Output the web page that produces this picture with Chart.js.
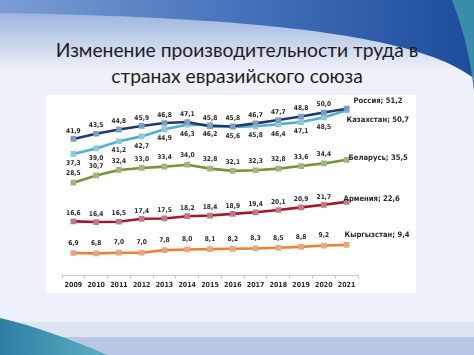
<!DOCTYPE html>
<html><head><meta charset="utf-8">
<script src="https://cdn.jsdelivr.net/npm/chart.js@4.4.0/dist/chart.umd.min.js"></script>
<style>
html,body{margin:0;padding:0;width:474px;height:355px;overflow:hidden;background:#eef1f9;}
#bg{position:absolute;left:0;top:0;}
#title{position:absolute;left:0;top:37px;width:474px;text-align:center;font-family:Lato,"Open Sans",sans-serif;font-size:19.3px;line-height:26px;color:#1e1e1e;}
#wrap{position:absolute;left:0;top:0;width:474px;height:355px;}
</style></head><body>
<svg id="bg" width="474" height="355" xmlns="http://www.w3.org/2000/svg">
<defs>
<linearGradient id="g1" x1="0" y1="0" x2="0" y2="1"><stop offset="0" stop-color="#8aa6d6"/><stop offset="1" stop-color="#eef1f9"/></linearGradient>
<linearGradient id="g2" x1="0" y1="0" x2="1" y2="0"><stop offset="0" stop-color="#7c9dd4"/><stop offset="0.5" stop-color="#4573bb"/><stop offset="1" stop-color="#1d4c9c"/></linearGradient>
<linearGradient id="g3" x1="0" y1="0" x2="1" y2="0"><stop offset="0" stop-color="#2d7ea3"/><stop offset="1" stop-color="#5fb0c4"/></linearGradient>
</defs>
<rect x="0" y="0" width="474" height="355" fill="#eef1f9"/>
<rect x="0" y="0" width="474" height="70" fill="url(#g1)"/>
<path d="M0,0 L474,0 L474,78 C430,45 320,18 0,13 Z" fill="url(#g2)"/>
<path d="M452,0 L474,0 L474,92 C471,60 463,28 452,0 Z" fill="#3a8ea9"/>
<rect x="0" y="322" width="474" height="33" fill="#dde4f2"/>
<rect x="0" y="337" width="474" height="18" fill="#b9c7e7"/>
<path d="M0,318 C35,326 72,340 108,355 L0,355 Z" fill="url(#g3)"/>
<rect x="46" y="95" width="370" height="198" fill="#ffffff"/>
</svg>
<div id="title">Изменение производительности труда в<br>странах евразийского союза</div>
<div id="wrap"><canvas id="c" width="474" height="355"></canvas></div>
<script>
const years = ['2009','2010','2011','2012','2013','2014','2015','2016','2017','2018','2019','2020','2021'];
const russia     = [41.9, 43.5, 44.8, 45.9, 46.8, 47.1, 45.8, 45.8, 46.7, 47.7, 48.8, 50.0, 51.2];
const kazakhstan = [37.3, 39.0, 41.2, 42.7, 44.9, 46.3, 46.2, 45.6, 45.8, 46.4, 47.1, 48.5, 50.7];
const belarus    = [28.5, 30.7, 32.4, 33.0, 33.4, 34.0, 32.8, 32.1, 32.3, 32.8, 33.6, 34.4, 35.5];
const armenia    = [16.6, 16.4, 16.5, 17.4, 17.5, 18.2, 18.4, 18.9, 19.4, 20.1, 20.9, 21.7, 22.6];
const kyrgyzstan = [6.9, 6.8, 7.0, 7.0, 7.8, 8.0, 8.1, 8.2, 8.3, 8.5, 8.8, 9.2, 9.4];
const names = ['Россия','Казахстан','Беларусь','Армения','Кыргызстан'];

const FONT = '"Liberation Sans Narrow", "DejaVu Sans Condensed", "Liberation Sans", Arial, sans-serif';
const fmt = v => v.toFixed(1).replace('.', ',');
const mk = (label, data, color, pt, labelDy, endDx, endDy) => ({
  label, data, borderColor: color, backgroundColor: pt, pointBackgroundColor: pt, pointBorderColor: pt,
  pointStyle: 'rect', pointRadius: 2.2, borderWidth: 2.6, tension: 0, labelDy, endDx, endDy
});

const labelPlugin = {
  id: 'labels',
  afterDatasetsDraw(chart) {
    const ctx = chart.ctx;
    ctx.save();
    chart.data.datasets.forEach((ds, i) => {
      const meta = chart.getDatasetMeta(i);
      ctx.fillStyle = '#2a2a2a';
      ctx.font = 'bold 6.6px ' + FONT;
      ctx.textAlign = 'center';
      ctx.textBaseline = 'middle';
      meta.data.forEach((p, j) => {
        if (j === ds.data.length - 1) return;
        ctx.fillText(fmt(ds.data[j]), p.x, p.y + ds.labelDy);
      });
      const last = meta.data[meta.data.length - 1];
      ctx.font = 'bold 7.6px ' + FONT;
      ctx.textAlign = 'left';
      ctx.fillText(ds.label + '; ' + fmt(ds.data[ds.data.length - 1]), last.x + ds.endDx, last.y + ds.endDy);
    });
    ctx.restore();
  }
};

new Chart(document.getElementById('c'), {
  type: 'line',
  data: {
    labels: years,
    datasets: [
      mk(names[0], russia, '#1f3a68', '#7f9cc4', -8, 7, -8),
      mk(names[1], kazakhstan, '#4fb0cc', '#8ccadb', 9.5, 0, 10),
      mk(names[2], belarus, '#77933c', '#a2b57a', -9, 2, -2),
      mk(names[3], armenia, '#a3172c', '#c07a84', -8, -3, -3),
      mk(names[4], kyrgyzstan, '#e8823a', '#e8a87a', -10, -2, -10)
    ]
  },
  options: {
    responsive: false,
    animation: false,
    events: [],
    layout: { padding: { left: 62, right: 116, top: 80, bottom: 0 } },
    plugins: { legend: { display: false }, tooltip: { enabled: false }, title: { display: false } },
    scales: {
      x: {
        offset: true,
        afterFit: s => { s.height = 79.5; },
        border: { display: true, color: '#c8c8c8', width: 1 },
        grid: { display: true, offset: true, drawOnChartArea: false, drawTicks: true, tickLength: 3, color: '#c8c8c8' },
        ticks: { color: '#2a2a2a', font: { family: FONT, size: 7, weight: 'bold' }, padding: 2, maxRotation: 0 }
      },
      y: { display: false, min: 0, max: 60 }
    }
  },
  plugins: [labelPlugin]
});
</script>
</body></html>
